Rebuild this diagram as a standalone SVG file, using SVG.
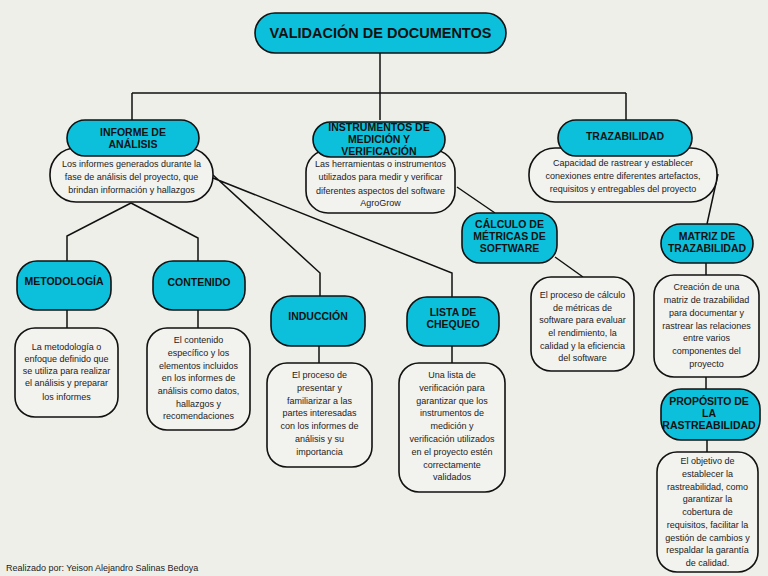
<svg xmlns="http://www.w3.org/2000/svg" width="768" height="576" viewBox="0 0 768 576">
<style>
.bg{fill:#efefea}
.h{fill:#0cc0dc;stroke:#111;stroke-width:1.6}
.d{fill:#f2f2ee;stroke:#111;stroke-width:1.6}
.c{fill:none;stroke:#111;stroke-width:1.5}
.ht{font-family:"Liberation Sans",Arial,sans-serif;font-weight:bold;font-size:10.5px;fill:#111;text-anchor:middle}
.dt{font-family:"Liberation Sans",Arial,sans-serif;font-size:9px;fill:#222;text-anchor:middle}
</style>
<rect class="bg" x="0" y="0" width="768" height="576"/>
<g id="connectors">
<path class="c" d="M380 53 V120 M132 93 H626 M132 93 V120 M626 93 V120"/>
<path class="c" d="M131 203 L67 236 V261 M131 203 L198 238 V261"/>
<path class="c" d="M213 175 L320 273 V296 M213 178 L452 273 V297"/>
<path class="c" d="M457 187 L495 213 M555 257 L583 277"/>
<path class="c" d="M718 174 L707 224 M706 263 V276 M706 377 V389 M707 440 V452"/>
<path class="c" d="M67 310 V328 M198 310 V328 M319 346 V363 M452 346 V363"/>
</g>
<g id="n-root">
<rect class="h" x="255" y="13" width="251" height="40" rx="20"/>
<text class="ht" x="380.5" y="38" style="font-size:14.5px">VALIDACIÓN DE DOCUMENTOS</text>
</g>
<g id="n-informe">
<rect class="d" x="50" y="148" width="163" height="54" rx="26"/>
<text class="dt" x="131.5" y="167">Los informes generados durante la</text>
<text class="dt" x="131.5" y="180">fase de análisis del proyecto, que</text>
<text class="dt" x="131.5" y="193">brindan información y hallazgos</text>
<rect class="h" x="67" y="120" width="132" height="36" rx="18"/>
<text class="ht" x="133" y="136">INFORME DE</text>
<text class="ht" x="133" y="148">ANÁLISIS</text>
</g>
<g id="n-instrumentos">
<rect class="d" x="306" y="150" width="149" height="63" rx="22"/>
<text class="dt" x="380.5" y="167">Las herramientas o instrumentos</text>
<text class="dt" x="380.5" y="180">utilizados para medir y verificar</text>
<text class="dt" x="380.5" y="194">diferentes aspectos del software</text>
<text class="dt" x="380.5" y="206">AgroGrow</text>
<rect class="h" x="313" y="122" width="132" height="35" rx="17.5"/>
<text class="ht" x="379" y="131">INSTRUMENTOS DE</text>
<text class="ht" x="379" y="143">MEDICIÓN Y</text>
<text class="ht" x="379" y="155">VERIFICACIÓN</text>
</g>
<g id="n-trazabilidad">
<rect class="d" x="529" y="148" width="188" height="54" rx="26"/>
<text class="dt" x="623" y="166">Capacidad de rastrear y establecer</text>
<text class="dt" x="623" y="179">conexiones entre diferentes artefactos,</text>
<text class="dt" x="623" y="192">requisitos y entregables del proyecto</text>
<rect class="h" x="558" y="120" width="134" height="36" rx="18"/>
<text class="ht" x="625" y="140">TRAZABILIDAD</text>
</g>
<g id="n-metodologia">
<rect class="h" x="17" y="261" width="94" height="49" rx="20"/>
<text class="ht" x="64" y="285">METODOLOGÍA</text>
</g>
<g id="d-metodologia">
<rect class="d" x="15" y="328" width="103" height="89" rx="20"/>
<text class="dt" x="66.5" y="350">La metodología o</text>
<text class="dt" x="66.5" y="362">enfoque definido que</text>
<text class="dt" x="66.5" y="374">se utiliza para realizar</text>
<text class="dt" x="66.5" y="386">el análisis y preparar</text>
<text class="dt" x="66.5" y="400">los informes</text>
</g>
<g id="n-contenido">
<rect class="h" x="153" y="261" width="92" height="49" rx="20"/>
<text class="ht" x="199" y="286">CONTENIDO</text>
</g>
<g id="d-contenido">
<rect class="d" x="147" y="328" width="103" height="102" rx="20"/>
<text class="dt" x="198.5" y="343">El contenido</text>
<text class="dt" x="198.5" y="356">específico y los</text>
<text class="dt" x="198.5" y="369">elementos incluidos</text>
<text class="dt" x="198.5" y="381">en los informes de</text>
<text class="dt" x="198.5" y="394">análisis como datos,</text>
<text class="dt" x="198.5" y="407">hallazgos y</text>
<text class="dt" x="198.5" y="419">recomendaciones</text>
</g>
<g id="n-induccion">
<rect class="h" x="271" y="296" width="94" height="50" rx="20"/>
<text class="ht" x="318" y="320">INDUCCIÓN</text>
</g>
<g id="d-induccion">
<rect class="d" x="267" y="363" width="105" height="104" rx="20"/>
<text class="dt" x="319.5" y="378">El proceso de</text>
<text class="dt" x="319.5" y="391">presentar y</text>
<text class="dt" x="319.5" y="404">familiarizar a las</text>
<text class="dt" x="319.5" y="416">partes interesadas</text>
<text class="dt" x="319.5" y="429">con los informes de</text>
<text class="dt" x="319.5" y="442">análisis y su</text>
<text class="dt" x="319.5" y="455">importancia</text>
</g>
<g id="n-lista">
<rect class="h" x="407" y="297" width="92" height="49" rx="20"/>
<text class="ht" x="453" y="316">LISTA DE</text>
<text class="ht" x="453" y="328">CHEQUEO</text>
</g>
<g id="d-lista">
<rect class="d" x="399" y="363" width="106" height="129" rx="20"/>
<text class="dt" x="452" y="378">Una lista de</text>
<text class="dt" x="452" y="391">verificación para</text>
<text class="dt" x="452" y="404">garantizar que los</text>
<text class="dt" x="452" y="416">instrumentos de</text>
<text class="dt" x="452" y="429">medición y</text>
<text class="dt" x="452" y="442">verificación utilizados</text>
<text class="dt" x="452" y="455">en el proyecto estén</text>
<text class="dt" x="452" y="468">correctamente</text>
<text class="dt" x="452" y="480">validados</text>
</g>
<g id="n-calculo">
<rect class="h" x="462" y="213" width="95" height="50" rx="18"/>
<text class="ht" x="509.5" y="228">CÁLCULO DE</text>
<text class="ht" x="509.5" y="240">MÉTRICAS DE</text>
<text class="ht" x="509.5" y="252">SOFTWARE</text>
</g>
<g id="d-calculo">
<rect class="d" x="531" y="277" width="103" height="94" rx="20"/>
<text class="dt" x="582.5" y="298">El proceso de cálculo</text>
<text class="dt" x="582.5" y="311">de métricas de</text>
<text class="dt" x="582.5" y="323">software para evaluar</text>
<text class="dt" x="582.5" y="336">el rendimiento, la</text>
<text class="dt" x="582.5" y="349">calidad y la eficiencia</text>
<text class="dt" x="582.5" y="361">del software</text>
</g>
<g id="n-matriz">
<rect class="h" x="661" y="224" width="92" height="39" rx="19.5"/>
<text class="ht" x="707" y="240">MATRIZ DE</text>
<text class="ht" x="707" y="252">TRAZABILIDAD</text>
</g>
<g id="d-matriz">
<rect class="d" x="654" y="275" width="105" height="102" rx="20"/>
<text class="dt" x="706.5" y="290">Creación de una</text>
<text class="dt" x="706.5" y="303">matriz de trazabilidad</text>
<text class="dt" x="706.5" y="316">para documentar y</text>
<text class="dt" x="706.5" y="329">rastrear las relaciones</text>
<text class="dt" x="706.5" y="341">entre varios</text>
<text class="dt" x="706.5" y="354">componentes del</text>
<text class="dt" x="706.5" y="367">proyecto</text>
</g>
<g id="n-proposito">
<rect class="h" x="661" y="389" width="99" height="51" rx="20"/>
<text class="ht" x="709" y="405">PROPÓSITO DE</text>
<text class="ht" x="709" y="417">LA</text>
<text class="ht" x="709" y="429">RASTREABILIDAD</text>
</g>
<g id="d-proposito">
<rect class="d" x="657" y="452" width="101" height="120" rx="20"/>
<text class="dt" x="707.5" y="464">El objetivo de</text>
<text class="dt" x="707.5" y="477">establecer la</text>
<text class="dt" x="707.5" y="490">rastreabilidad, como</text>
<text class="dt" x="707.5" y="502">garantizar la</text>
<text class="dt" x="707.5" y="515">cobertura de</text>
<text class="dt" x="707.5" y="528">requisitos, facilitar la</text>
<text class="dt" x="707.5" y="541">gestión de cambios y</text>
<text class="dt" x="707.5" y="553">respaldar la garantía</text>
<text class="dt" x="707.5" y="566">de calidad.</text>
</g>
<text x="6" y="571" style="font-family:'Liberation Sans',Arial,sans-serif;font-size:9px;fill:#222">Realizado por: Yeison Alejandro Salinas Bedoya</text>
</svg>
